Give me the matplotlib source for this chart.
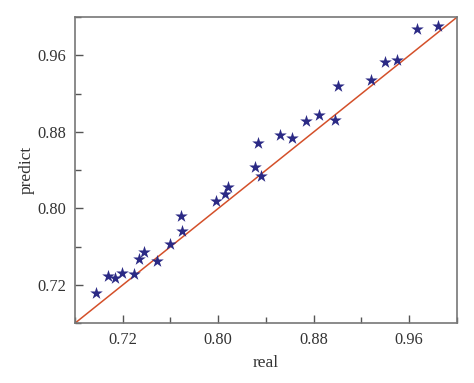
import numpy as np
import matplotlib.pyplot as plt
from matplotlib.ticker import MultipleLocator

plt.rcParams['font.family'] = ['Liberation Serif', 'DejaVu Serif']

real = [0.6975, 0.7074, 0.7135, 0.7194, 0.7293, 0.7335, 0.7382, 0.7486,
        0.7599, 0.7691, 0.7700, 0.7986, 0.8059, 0.8084, 0.8312, 0.8359,
        0.8331, 0.8519, 0.8620, 0.8733, 0.8845, 0.8982, 0.9002, 0.9283,
        0.9398, 0.9496, 0.9665, 0.9844]
predict = [0.7113, 0.7294, 0.7277, 0.7322, 0.7315, 0.7468, 0.7541, 0.7450,
           0.7628, 0.7920, 0.7767, 0.8083, 0.8150, 0.8226, 0.8435, 0.8337,
           0.8685, 0.8765, 0.8737, 0.8915, 0.8981, 0.8929, 0.9277, 0.9346,
           0.9530, 0.9548, 0.9878, 0.9906]
ticks = [0.72, 0.80, 0.88, 0.96]
lims = [0.68, 1.0]

fig = plt.figure(figsize=(4.74, 3.83), dpi=100)
ax = fig.add_axes([0.158, 0.156, 0.806, 0.799])

ax.plot(lims, lims, color='#d4502a', lw=1.1, zorder=1)
ax.scatter(real, predict, marker='*', s=90, color='#2b2a85', zorder=2, linewidths=0)

ax.set_xlim(lims)
ax.set_ylim(lims)
ax.xaxis.set_minor_locator(MultipleLocator(0.04))
ax.yaxis.set_minor_locator(MultipleLocator(0.04))
ax.set_xticks(ticks)
ax.set_yticks(ticks)
ax.set_xticklabels(['%.2f' % t for t in ticks])
ax.set_yticklabels(['%.2f' % t for t in ticks])
ax.tick_params(which='both', direction='in', colors='#555555', labelcolor='#333333',
               labelsize=11.8, width=1)
ax.tick_params(which='major', length=6, pad=6)
ax.tick_params(which='minor', length=4)
for s in ax.spines.values():
    s.set_color('#777777')
    s.set_linewidth(1.2)

ax.set_xlabel('real', fontsize=12.5, color='#333333', labelpad=5)
ax.set_ylabel('predict', fontsize=12.5, color='#333333', labelpad=2)

fig.savefig('out.png', dpi=100)
